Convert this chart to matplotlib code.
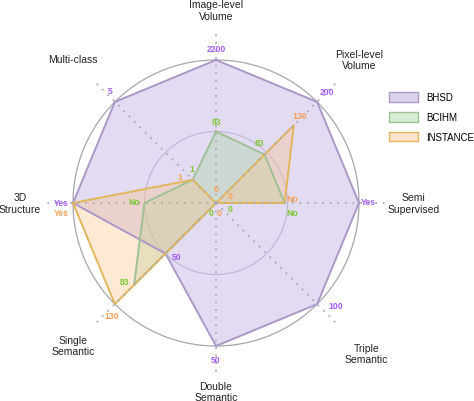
import numpy as np
import matplotlib
matplotlib.use("Agg")
import matplotlib.pyplot as plt
from matplotlib.patches import Patch
from matplotlib.colors import to_rgba

plt.rcParams['font.family'] = ['Liberation Sans', 'DejaVu Sans']

# axes, clockwise from the top
axis_names = ['Image-level\nVolume', 'Pixel-level\nVolume', 'Semi\nSupervised',
              'Triple\nSemantic', 'Double\nSemantic', 'Single\nSemantic',
              '3D\nStructure', 'Multi-class']

# normalised scores (as plotted) and the value shown next to each vertex
bhsd_r = [1.0, 1.0, 1.0, 1.0, 1.0, 0.5, 1.0, 1.0]
bhsd_lab = ['2200', '200', 'Yes', '100', '50', '50', 'Yes', '5']

bcihm_r = [0.5, 0.48, 0.48, 0.0, 0.0, 0.81, 0.5, 0.23]
bcihm_lab = ['83', '83', 'No', '0', '0', '83', 'No', '1']

instance_r = [0.0, 0.77, 0.48, 0.0, 0.0, 1.0, 1.0, 0.23]
instance_lab = ['0', '130', 'No', '0', '0', '130', 'Yes', '1']

series_names = ['BHSD', 'BCIHM', 'INSTANCE']

# styling / layout
face = {'BHSD': '#b19cd9', 'BCIHM': '#a8d5a0', 'INSTANCE': '#fcc28a'}
edge = {'BHSD': '#ab98c6', 'BCIHM': '#a0c096', 'INSTANCE': '#e2b65a'}
txt = {'BHSD': '#a35cf5', 'BCIHM': '#7ec832', 'INSTANCE': '#f5a05a'}

# pixel offsets (right, up) of each value label from its vertex
offs = {
    'BHSD': [(0, 11), (10, 10), (9, 1), (19, -1), (0, -14), (11, -3), (-12, 1), (-5, 11)],
    'BCIHM': [(1, 10), (-5, 12), (8, -10), (14, -6), (-5, -10), (-10, 3), (-10, 1), (-1, 11)],
    'INSTANCE': [(0, 14), (6, 10), (8, 4), (14, 7), (3, -10), (-3, -11), (-12, -10), (-13, 3)],
}
name_r = [1.35, 1.42, 1.38, 1.49, 1.32, 1.41, 1.37, 1.42]

W, H = 474, 402
cx, cy, R1 = 216, 204, 143
rmax = 1.25
half = R1 * rmax

fig = plt.figure(figsize=(W / 100, H / 100), dpi=100)
ax = fig.add_axes([(cx - half) / W, (H - cy - half) / H, 2 * half / W, 2 * half / H],
                  projection='polar')
ax.set_theta_zero_location('N')
ax.set_theta_direction(-1)
ax.set_ylim(0, rmax)
ax.set_axis_off()

n = len(axis_names)
theta = np.arange(n) * 2 * np.pi / n

# grid circles and dotted spokes
tt = np.linspace(0, 2 * np.pi, 300)
ax.plot(tt, np.full_like(tt, 1.0), color='#a6a6ae', lw=0.9, zorder=1)
ax.plot(tt, np.full_like(tt, 0.5), color='#c6c6ce', lw=0.8, zorder=1)
for t in theta:
    ax.plot([t, t], [0, 1.2], color='#aaaab6', lw=1.3, ls=(0, (1, 3.2)), zorder=4)

data = {'BHSD': (bhsd_r, bhsd_lab), 'BCIHM': (bcihm_r, bcihm_lab),
        'INSTANCE': (instance_r, instance_lab)}

for i, name in enumerate(series_names):
    r, lab = data[name]
    tc = np.append(theta, theta[0])
    rc = np.append(r, r[0])
    ax.fill(tc, rc, color=face[name], alpha=0.36, lw=0, zorder=2 + i * 0.1)
    ax.plot(tc, rc, color=edge[name], lw=1.4, zorder=3 + i * 0.1)
    for k in range(n):
        ax.annotate(lab[k], xy=(theta[k], r[k]), xytext=offs[name][k],
                    textcoords='offset pixels', ha='center', va='center',
                    fontsize=6.2, fontweight='bold', color=txt[name], zorder=6)

for k in range(n):
    ax.text(theta[k], name_r[k], axis_names[k], ha='center', va='center',
            fontsize=7.5, color='#222222', linespacing=1.15)

handles = [Patch(facecolor=to_rgba(face[s], 0.45), edgecolor=edge[s], lw=1.0)
           for s in series_names]
fig.legend(handles, series_names, loc='upper left', bbox_to_anchor=(0.802, 0.79),
           frameon=False, fontsize=7, handlelength=3.0, handleheight=1.15,
           labelspacing=1.0, handletextpad=0.8)

fig.savefig('out.png', dpi=100)
